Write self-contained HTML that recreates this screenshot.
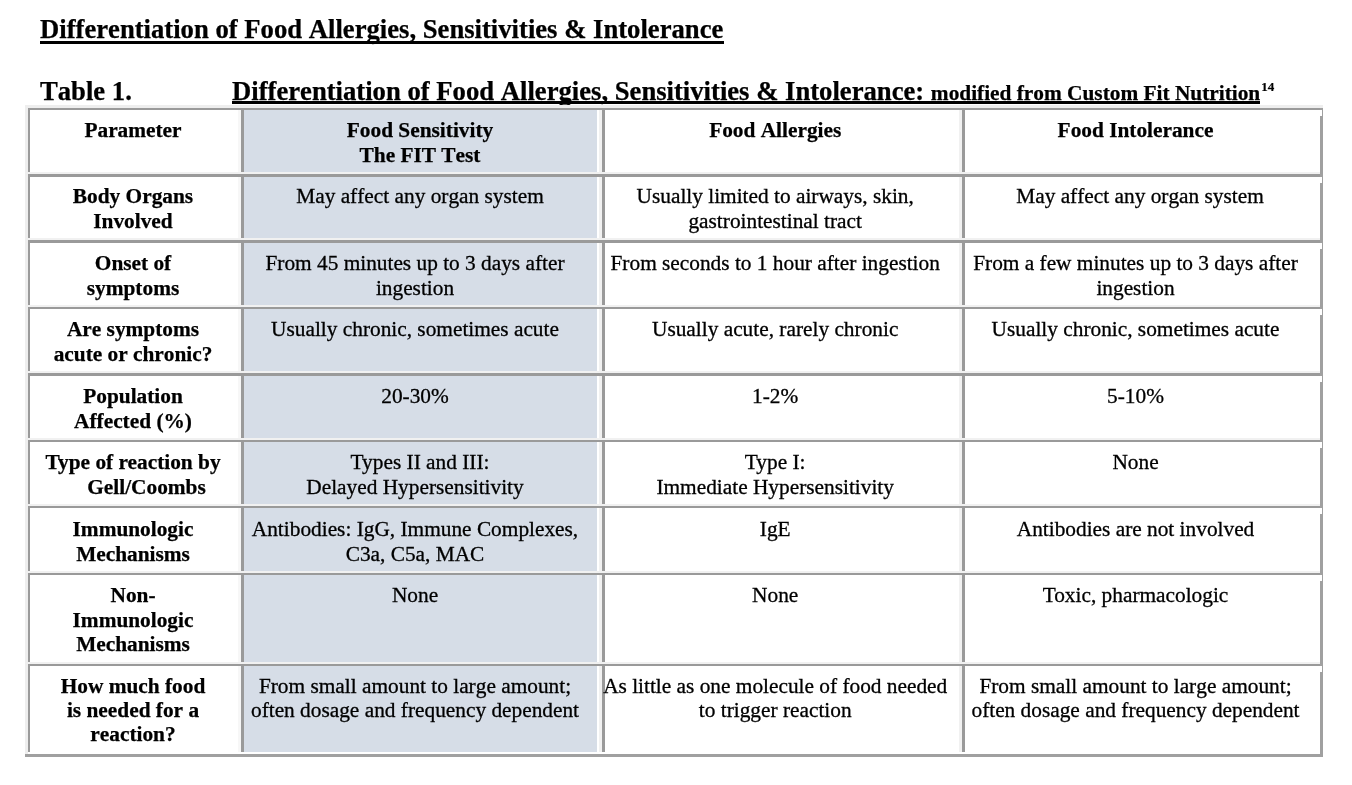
<!DOCTYPE html>
<html lang="en"><head><meta charset="utf-8"><title>Differentiation of Food Allergies, Sensitivities &amp; Intolerance</title>
<style>
html,body{margin:0;padding:0;background:#fff;font-kerning:none;}
body{width:1352px;height:785px;position:relative;overflow:hidden;font-family:"Liberation Serif","Times New Roman",serif;color:#000;}
.t{position:absolute;white-space:nowrap;font-weight:bold;line-height:1;}
.ul{position:absolute;height:3px;background:#000;}
.r{position:absolute;}
.c{position:absolute;background-color:#fff;background-repeat:no-repeat;}
.l{position:absolute;white-space:nowrap;font-size:21.33px;line-height:24.5px;height:24.5px;transform:translateX(-50%);text-align:center;}
.l{-webkit-text-stroke:0.3px #000;}
.h .l,.k .l{font-weight:bold;-webkit-text-stroke:0.25px #000;}
.t{-webkit-text-stroke:0.25px #000;}
</style></head><body>
<div class="t" id="t1" style="left:40px;top:16.16px;font-size:26.67px;">Differentiation of Food Allergies, Sensitivities &amp; Intolerance</div>
<div class="ul" style="left:40px;top:41px;width:684px;"></div>
<div class="t" id="t2" style="left:40px;top:78.26px;font-size:26.67px;">Table 1.</div>
<div class="t" id="t3" style="left:232px;top:78.26px;font-size:26.67px;"><span id="t3a">Differentiation of Food Allergies, Sensitivities &amp; Intolerance: <span id="t3b" style="font-size:21.33px;">modified from Custom Fit Nutrition</span></span><span id="t3c" style="font-size:13px;position:relative;top:-9px;margin-left:1px;-webkit-text-stroke:0.2px #000;">14</span></div>
<div class="ul" style="left:232px;top:101px;width:1028px;"></div>
<div class="r" style="left:25px;top:105px;width:1298px;height:3px;background:#eeeeee;"></div><div class="r" style="left:25px;top:105px;width:3px;height:649px;background:#eeeeee;"></div><div class="r" style="left:25px;top:754px;width:1298px;height:3px;background:#a0a0a0;"></div><div class="r" style="left:1320px;top:108px;width:3px;height:649px;background:#a0a0a0;"></div>
<div class="c h" style="left:28px;top:108px;width:213px;height:66px;background-image:linear-gradient(#9a9a9a,#9a9a9a),linear-gradient(#f1f1f1,#f1f1f1),linear-gradient(#9a9a9a,#9a9a9a),linear-gradient(#f7f7f7,#f7f7f7);background-position:0 0,0 64px,0 0,210px 0;background-size:213px 2px,213px 2px,2px 64px,3px 64px;"><span class="l" id="l0_0_0" style="left:105.00px;top:10.00px;">Parameter</span></div>
<div class="c b h" style="left:241px;top:108px;width:361px;height:66px;background-image:linear-gradient(#9a9a9a,#9a9a9a),linear-gradient(#f1f1f1,#f1f1f1),linear-gradient(#9a9a9a,#9a9a9a),linear-gradient(#f1f1f1,#f1f1f1),linear-gradient(#d6dde7,#d6dde7);background-position:0 0,0 64px,0 0,358px 0,0 0;background-size:361px 2px,361px 2px,3px 64px,3px 64px,356px 64px;"><span class="l" id="l0_1_0" style="left:179.00px;top:10.00px;">Food Sensitivity</span><span class="l" id="l0_1_1" style="left:179.00px;top:34.50px;">The FIT Test</span></div>
<div class="c h" style="left:602px;top:108px;width:360px;height:66px;background-image:linear-gradient(#9a9a9a,#9a9a9a),linear-gradient(#f1f1f1,#f1f1f1),linear-gradient(#9a9a9a,#9a9a9a),linear-gradient(#f1f1f1,#f1f1f1);background-position:0 0,0 64px,0 0,357px 0;background-size:360px 2px,360px 2px,3px 64px,3px 64px;"><span class="l" id="l0_2_0" style="left:173.20px;top:10.00px;">Food Allergies</span></div>
<div class="c h" style="left:962px;top:108px;width:358px;height:66px;background-image:linear-gradient(#9a9a9a,#9a9a9a),linear-gradient(#f1f1f1,#f1f1f1),linear-gradient(#9a9a9a,#9a9a9a);background-position:0 0,0 64px,0 0;background-size:358px 2px,358px 2px,3px 64px;"><span class="l" id="l0_3_0" style="left:173.50px;top:10.00px;">Food Intolerance</span></div>
<div class="c k" style="left:28px;top:174px;width:213px;height:66px;background-image:linear-gradient(#9a9a9a,#9a9a9a),linear-gradient(#f1f1f1,#f1f1f1),linear-gradient(#9a9a9a,#9a9a9a),linear-gradient(#f7f7f7,#f7f7f7);background-position:0 0,0 64px,0 0,210px 0;background-size:213px 3px,213px 2px,2px 64px,3px 64px;"><span class="l" id="l1_0_0" style="left:105.00px;top:10.00px;">Body Organs</span><span class="l" id="l1_0_1" style="left:105.00px;top:34.50px;">Involved</span></div>
<div class="c b" style="left:241px;top:174px;width:361px;height:66px;background-image:linear-gradient(#9a9a9a,#9a9a9a),linear-gradient(#f1f1f1,#f1f1f1),linear-gradient(#9a9a9a,#9a9a9a),linear-gradient(#f1f1f1,#f1f1f1),linear-gradient(#d6dde7,#d6dde7);background-position:0 0,0 64px,0 0,358px 0,0 0;background-size:361px 3px,361px 2px,3px 64px,3px 64px,356px 64px;"><span class="l" id="l1_1_0" style="left:179.00px;top:10.00px;">May affect any organ system</span></div>
<div class="c" style="left:602px;top:174px;width:360px;height:66px;background-image:linear-gradient(#9a9a9a,#9a9a9a),linear-gradient(#f1f1f1,#f1f1f1),linear-gradient(#9a9a9a,#9a9a9a),linear-gradient(#f1f1f1,#f1f1f1);background-position:0 0,0 64px,0 0,357px 0;background-size:360px 3px,360px 2px,3px 64px,3px 64px;"><span class="l" id="l1_2_0" style="left:173.20px;top:10.00px;">Usually limited to airways, skin,</span><span class="l" id="l1_2_1" style="left:173.20px;top:34.50px;">gastrointestinal tract</span></div>
<div class="c" style="left:962px;top:174px;width:358px;height:66px;background-image:linear-gradient(#9a9a9a,#9a9a9a),linear-gradient(#f1f1f1,#f1f1f1),linear-gradient(#9a9a9a,#9a9a9a);background-position:0 0,0 64px,0 0;background-size:358px 3px,358px 2px,3px 64px;"><span class="l" id="l1_3_0" style="left:178.00px;top:10.00px;">May affect any organ system</span></div>
<div class="c k" style="left:28px;top:240px;width:213px;height:67px;background-image:linear-gradient(#9a9a9a,#9a9a9a),linear-gradient(#f1f1f1,#f1f1f1),linear-gradient(#9a9a9a,#9a9a9a),linear-gradient(#f7f7f7,#f7f7f7);background-position:0 0,0 65px,0 0,210px 0;background-size:213px 3px,213px 2px,2px 65px,3px 65px;"><span class="l" id="l2_0_0" style="left:105.00px;top:11.00px;">Onset of</span><span class="l" id="l2_0_1" style="left:105.00px;top:35.50px;">symptoms</span></div>
<div class="c b" style="left:241px;top:240px;width:361px;height:67px;background-image:linear-gradient(#9a9a9a,#9a9a9a),linear-gradient(#f1f1f1,#f1f1f1),linear-gradient(#9a9a9a,#9a9a9a),linear-gradient(#f1f1f1,#f1f1f1),linear-gradient(#d6dde7,#d6dde7);background-position:0 0,0 65px,0 0,358px 0,0 0;background-size:361px 3px,361px 2px,3px 65px,3px 65px,356px 65px;"><span class="l" id="l2_1_0" style="left:174.00px;top:11.00px;">From 45 minutes up to 3 days after</span><span class="l" id="l2_1_1" style="left:174.00px;top:35.50px;">ingestion</span></div>
<div class="c" style="left:602px;top:240px;width:360px;height:67px;background-image:linear-gradient(#9a9a9a,#9a9a9a),linear-gradient(#f1f1f1,#f1f1f1),linear-gradient(#9a9a9a,#9a9a9a),linear-gradient(#f1f1f1,#f1f1f1);background-position:0 0,0 65px,0 0,357px 0;background-size:360px 3px,360px 2px,3px 65px,3px 65px;"><span class="l" id="l2_2_0" style="left:173.20px;top:11.00px;">From seconds to 1 hour after ingestion</span></div>
<div class="c" style="left:962px;top:240px;width:358px;height:67px;background-image:linear-gradient(#9a9a9a,#9a9a9a),linear-gradient(#f1f1f1,#f1f1f1),linear-gradient(#9a9a9a,#9a9a9a);background-position:0 0,0 65px,0 0;background-size:358px 3px,358px 2px,3px 65px;"><span class="l" id="l2_3_0" style="left:173.50px;top:11.00px;">From a few minutes up to 3 days after</span><span class="l" id="l2_3_1" style="left:173.50px;top:35.50px;">ingestion</span></div>
<div class="c k" style="left:28px;top:307px;width:213px;height:66px;background-image:linear-gradient(#9a9a9a,#9a9a9a),linear-gradient(#f1f1f1,#f1f1f1),linear-gradient(#9a9a9a,#9a9a9a),linear-gradient(#f7f7f7,#f7f7f7);background-position:0 0,0 64px,0 0,210px 0;background-size:213px 2px,213px 2px,2px 64px,3px 64px;"><span class="l" id="l3_0_0" style="left:105.00px;top:10.00px;">Are symptoms</span><span class="l" id="l3_0_1" style="left:105.00px;top:34.50px;">acute or chronic?</span></div>
<div class="c b" style="left:241px;top:307px;width:361px;height:66px;background-image:linear-gradient(#9a9a9a,#9a9a9a),linear-gradient(#f1f1f1,#f1f1f1),linear-gradient(#9a9a9a,#9a9a9a),linear-gradient(#f1f1f1,#f1f1f1),linear-gradient(#d6dde7,#d6dde7);background-position:0 0,0 64px,0 0,358px 0,0 0;background-size:361px 2px,361px 2px,3px 64px,3px 64px,356px 64px;"><span class="l" id="l3_1_0" style="left:174.00px;top:10.00px;">Usually chronic, sometimes acute</span></div>
<div class="c" style="left:602px;top:307px;width:360px;height:66px;background-image:linear-gradient(#9a9a9a,#9a9a9a),linear-gradient(#f1f1f1,#f1f1f1),linear-gradient(#9a9a9a,#9a9a9a),linear-gradient(#f1f1f1,#f1f1f1);background-position:0 0,0 64px,0 0,357px 0;background-size:360px 2px,360px 2px,3px 64px,3px 64px;"><span class="l" id="l3_2_0" style="left:173.20px;top:10.00px;">Usually acute, rarely chronic</span></div>
<div class="c" style="left:962px;top:307px;width:358px;height:66px;background-image:linear-gradient(#9a9a9a,#9a9a9a),linear-gradient(#f1f1f1,#f1f1f1),linear-gradient(#9a9a9a,#9a9a9a);background-position:0 0,0 64px,0 0;background-size:358px 2px,358px 2px,3px 64px;"><span class="l" id="l3_3_0" style="left:173.50px;top:10.00px;">Usually chronic, sometimes acute</span></div>
<div class="c k" style="left:28px;top:373px;width:213px;height:67px;background-image:linear-gradient(#9a9a9a,#9a9a9a),linear-gradient(#f1f1f1,#f1f1f1),linear-gradient(#9a9a9a,#9a9a9a),linear-gradient(#f7f7f7,#f7f7f7);background-position:0 0,0 65px,0 0,210px 0;background-size:213px 3px,213px 2px,2px 65px,3px 65px;"><span class="l" id="l4_0_0" style="left:105.00px;top:11.00px;">Population</span><span class="l" id="l4_0_1" style="left:105.00px;top:35.50px;">Affected (%)</span></div>
<div class="c b" style="left:241px;top:373px;width:361px;height:67px;background-image:linear-gradient(#9a9a9a,#9a9a9a),linear-gradient(#f1f1f1,#f1f1f1),linear-gradient(#9a9a9a,#9a9a9a),linear-gradient(#f1f1f1,#f1f1f1),linear-gradient(#d6dde7,#d6dde7);background-position:0 0,0 65px,0 0,358px 0,0 0;background-size:361px 3px,361px 2px,3px 65px,3px 65px,356px 65px;"><span class="l" id="l4_1_0" style="left:174.00px;top:11.00px;">20-30%</span></div>
<div class="c" style="left:602px;top:373px;width:360px;height:67px;background-image:linear-gradient(#9a9a9a,#9a9a9a),linear-gradient(#f1f1f1,#f1f1f1),linear-gradient(#9a9a9a,#9a9a9a),linear-gradient(#f1f1f1,#f1f1f1);background-position:0 0,0 65px,0 0,357px 0;background-size:360px 3px,360px 2px,3px 65px,3px 65px;"><span class="l" id="l4_2_0" style="left:173.20px;top:11.00px;">1-2%</span></div>
<div class="c" style="left:962px;top:373px;width:358px;height:67px;background-image:linear-gradient(#9a9a9a,#9a9a9a),linear-gradient(#f1f1f1,#f1f1f1),linear-gradient(#9a9a9a,#9a9a9a);background-position:0 0,0 65px,0 0;background-size:358px 3px,358px 2px,3px 65px;"><span class="l" id="l4_3_0" style="left:173.50px;top:11.00px;">5-10%</span></div>
<div class="c k" style="left:28px;top:440px;width:213px;height:66px;background-image:linear-gradient(#9a9a9a,#9a9a9a),linear-gradient(#f1f1f1,#f1f1f1),linear-gradient(#9a9a9a,#9a9a9a),linear-gradient(#f7f7f7,#f7f7f7);background-position:0 0,0 64px,0 0,210px 0;background-size:213px 2px,213px 2px,2px 64px,3px 64px;"><span class="l" id="l5_0_0" style="left:105.00px;top:10.00px;font-kerning:normal;">Type of reaction by</span><span class="l" id="l5_0_1" style="left:118.50px;top:34.50px;">Gell/Coombs</span></div>
<div class="c b" style="left:241px;top:440px;width:361px;height:66px;background-image:linear-gradient(#9a9a9a,#9a9a9a),linear-gradient(#f1f1f1,#f1f1f1),linear-gradient(#9a9a9a,#9a9a9a),linear-gradient(#f1f1f1,#f1f1f1),linear-gradient(#d6dde7,#d6dde7);background-position:0 0,0 64px,0 0,358px 0,0 0;background-size:361px 2px,361px 2px,3px 64px,3px 64px,356px 64px;"><span class="l" id="l5_1_0" style="left:179.00px;top:10.00px;font-kerning:normal;">Types II and III:</span><span class="l" id="l5_1_1" style="left:174.00px;top:34.50px;">Delayed Hypersensitivity</span></div>
<div class="c" style="left:602px;top:440px;width:360px;height:66px;background-image:linear-gradient(#9a9a9a,#9a9a9a),linear-gradient(#f1f1f1,#f1f1f1),linear-gradient(#9a9a9a,#9a9a9a),linear-gradient(#f1f1f1,#f1f1f1);background-position:0 0,0 64px,0 0,357px 0;background-size:360px 2px,360px 2px,3px 64px,3px 64px;"><span class="l" id="l5_2_0" style="left:173.20px;top:10.00px;font-kerning:normal;">Type I:</span><span class="l" id="l5_2_1" style="left:173.20px;top:34.50px;">Immediate Hypersensitivity</span></div>
<div class="c" style="left:962px;top:440px;width:358px;height:66px;background-image:linear-gradient(#9a9a9a,#9a9a9a),linear-gradient(#f1f1f1,#f1f1f1),linear-gradient(#9a9a9a,#9a9a9a);background-position:0 0,0 64px,0 0;background-size:358px 2px,358px 2px,3px 64px;"><span class="l" id="l5_3_0" style="left:173.50px;top:10.00px;">None</span></div>
<div class="c k" style="left:28px;top:506px;width:213px;height:67px;background-image:linear-gradient(#9a9a9a,#9a9a9a),linear-gradient(#f1f1f1,#f1f1f1),linear-gradient(#9a9a9a,#9a9a9a),linear-gradient(#f7f7f7,#f7f7f7);background-position:0 0,0 65px,0 0,210px 0;background-size:213px 2px,213px 2px,2px 65px,3px 65px;"><span class="l" id="l6_0_0" style="left:105.00px;top:11.00px;">Immunologic</span><span class="l" id="l6_0_1" style="left:105.00px;top:35.50px;">Mechanisms</span></div>
<div class="c b" style="left:241px;top:506px;width:361px;height:67px;background-image:linear-gradient(#9a9a9a,#9a9a9a),linear-gradient(#f1f1f1,#f1f1f1),linear-gradient(#9a9a9a,#9a9a9a),linear-gradient(#f1f1f1,#f1f1f1),linear-gradient(#d6dde7,#d6dde7);background-position:0 0,0 65px,0 0,358px 0,0 0;background-size:361px 2px,361px 2px,3px 65px,3px 65px,356px 65px;"><span class="l" id="l6_1_0" style="left:174.00px;top:11.00px;">Antibodies: IgG, Immune Complexes,</span><span class="l" id="l6_1_1" style="left:174.00px;top:35.50px;">C3a, C5a, MAC</span></div>
<div class="c" style="left:602px;top:506px;width:360px;height:67px;background-image:linear-gradient(#9a9a9a,#9a9a9a),linear-gradient(#f1f1f1,#f1f1f1),linear-gradient(#9a9a9a,#9a9a9a),linear-gradient(#f1f1f1,#f1f1f1);background-position:0 0,0 65px,0 0,357px 0;background-size:360px 2px,360px 2px,3px 65px,3px 65px;"><span class="l" id="l6_2_0" style="left:173.20px;top:11.00px;">IgE</span></div>
<div class="c" style="left:962px;top:506px;width:358px;height:67px;background-image:linear-gradient(#9a9a9a,#9a9a9a),linear-gradient(#f1f1f1,#f1f1f1),linear-gradient(#9a9a9a,#9a9a9a);background-position:0 0,0 65px,0 0;background-size:358px 2px,358px 2px,3px 65px;"><span class="l" id="l6_3_0" style="left:173.50px;top:11.00px;">Antibodies are not involved</span></div>
<div class="c k" style="left:28px;top:573px;width:213px;height:91px;background-image:linear-gradient(#9a9a9a,#9a9a9a),linear-gradient(#f1f1f1,#f1f1f1),linear-gradient(#9a9a9a,#9a9a9a),linear-gradient(#f7f7f7,#f7f7f7);background-position:0 0,0 89px,0 0,210px 0;background-size:213px 2px,213px 2px,2px 89px,3px 89px;"><span class="l" id="l7_0_0" style="left:105.00px;top:10.00px;">Non-</span><span class="l" id="l7_0_1" style="left:105.00px;top:34.50px;">Immunologic</span><span class="l" id="l7_0_2" style="left:105.00px;top:59.00px;">Mechanisms</span></div>
<div class="c b" style="left:241px;top:573px;width:361px;height:91px;background-image:linear-gradient(#9a9a9a,#9a9a9a),linear-gradient(#f1f1f1,#f1f1f1),linear-gradient(#9a9a9a,#9a9a9a),linear-gradient(#f1f1f1,#f1f1f1),linear-gradient(#d6dde7,#d6dde7);background-position:0 0,0 89px,0 0,358px 0,0 0;background-size:361px 2px,361px 2px,3px 89px,3px 89px,356px 89px;"><span class="l" id="l7_1_0" style="left:174.00px;top:10.00px;">None</span></div>
<div class="c" style="left:602px;top:573px;width:360px;height:91px;background-image:linear-gradient(#9a9a9a,#9a9a9a),linear-gradient(#f1f1f1,#f1f1f1),linear-gradient(#9a9a9a,#9a9a9a),linear-gradient(#f1f1f1,#f1f1f1);background-position:0 0,0 89px,0 0,357px 0;background-size:360px 2px,360px 2px,3px 89px,3px 89px;"><span class="l" id="l7_2_0" style="left:173.20px;top:10.00px;">None</span></div>
<div class="c" style="left:962px;top:573px;width:358px;height:91px;background-image:linear-gradient(#9a9a9a,#9a9a9a),linear-gradient(#f1f1f1,#f1f1f1),linear-gradient(#9a9a9a,#9a9a9a);background-position:0 0,0 89px,0 0;background-size:358px 2px,358px 2px,3px 89px;"><span class="l" id="l7_3_0" style="left:173.50px;top:10.00px;font-kerning:normal;">Toxic, pharmacologic</span></div>
<div class="c k" style="left:28px;top:664px;width:213px;height:90px;background-image:linear-gradient(#9a9a9a,#9a9a9a),linear-gradient(#ffffff,#ffffff),linear-gradient(#9a9a9a,#9a9a9a),linear-gradient(#f7f7f7,#f7f7f7);background-position:0 0,0 88px,0 0,210px 0;background-size:213px 2px,213px 2px,2px 88px,3px 88px;"><span class="l" id="l8_0_0" style="left:105.00px;top:10.00px;">How much food</span><span class="l" id="l8_0_1" style="left:105.00px;top:33.50px;">is needed for a</span><span class="l" id="l8_0_2" style="left:105.00px;top:58.00px;">reaction?</span></div>
<div class="c b" style="left:241px;top:664px;width:361px;height:90px;background-image:linear-gradient(#9a9a9a,#9a9a9a),linear-gradient(#ffffff,#ffffff),linear-gradient(#9a9a9a,#9a9a9a),linear-gradient(#f1f1f1,#f1f1f1),linear-gradient(#d6dde7,#d6dde7);background-position:0 0,0 88px,0 0,358px 0,0 0;background-size:361px 2px,361px 2px,3px 88px,3px 88px,356px 88px;"><span class="l" id="l8_1_0" style="left:174.00px;top:10.00px;">From small amount to large amount;</span><span class="l" id="l8_1_1" style="left:174.00px;top:33.50px;">often dosage and frequency dependent</span></div>
<div class="c" style="left:602px;top:664px;width:360px;height:90px;background-image:linear-gradient(#9a9a9a,#9a9a9a),linear-gradient(#ffffff,#ffffff),linear-gradient(#9a9a9a,#9a9a9a),linear-gradient(#f1f1f1,#f1f1f1);background-position:0 0,0 88px,0 0,357px 0;background-size:360px 2px,360px 2px,3px 88px,3px 88px;"><span class="l" id="l8_2_0" style="left:173.20px;top:10.00px;">As little as one molecule of food needed</span><span class="l" id="l8_2_1" style="left:173.20px;top:33.50px;">to trigger reaction</span></div>
<div class="c" style="left:962px;top:664px;width:358px;height:90px;background-image:linear-gradient(#9a9a9a,#9a9a9a),linear-gradient(#ffffff,#ffffff),linear-gradient(#9a9a9a,#9a9a9a);background-position:0 0,0 88px,0 0;background-size:358px 2px,358px 2px,3px 88px;"><span class="l" id="l8_3_0" style="left:173.50px;top:10.00px;">From small amount to large amount;</span><span class="l" id="l8_3_1" style="left:173.50px;top:33.50px;">often dosage and frequency dependent</span></div>
<div class="r" style="left:1320px;top:110px;width:2px;height:6px;background:#fff;"></div><div class="r" style="left:1320px;top:177px;width:2px;height:6px;background:#fff;"></div><div class="r" style="left:1320px;top:243px;width:2px;height:6px;background:#fff;"></div><div class="r" style="left:1320px;top:309px;width:2px;height:6px;background:#fff;"></div><div class="r" style="left:1320px;top:376px;width:2px;height:6px;background:#fff;"></div><div class="r" style="left:1320px;top:442px;width:2px;height:6px;background:#fff;"></div><div class="r" style="left:1320px;top:508px;width:2px;height:6px;background:#fff;"></div><div class="r" style="left:1320px;top:575px;width:2px;height:6px;background:#fff;"></div><div class="r" style="left:1320px;top:666px;width:2px;height:6px;background:#fff;"></div>
</body></html>
